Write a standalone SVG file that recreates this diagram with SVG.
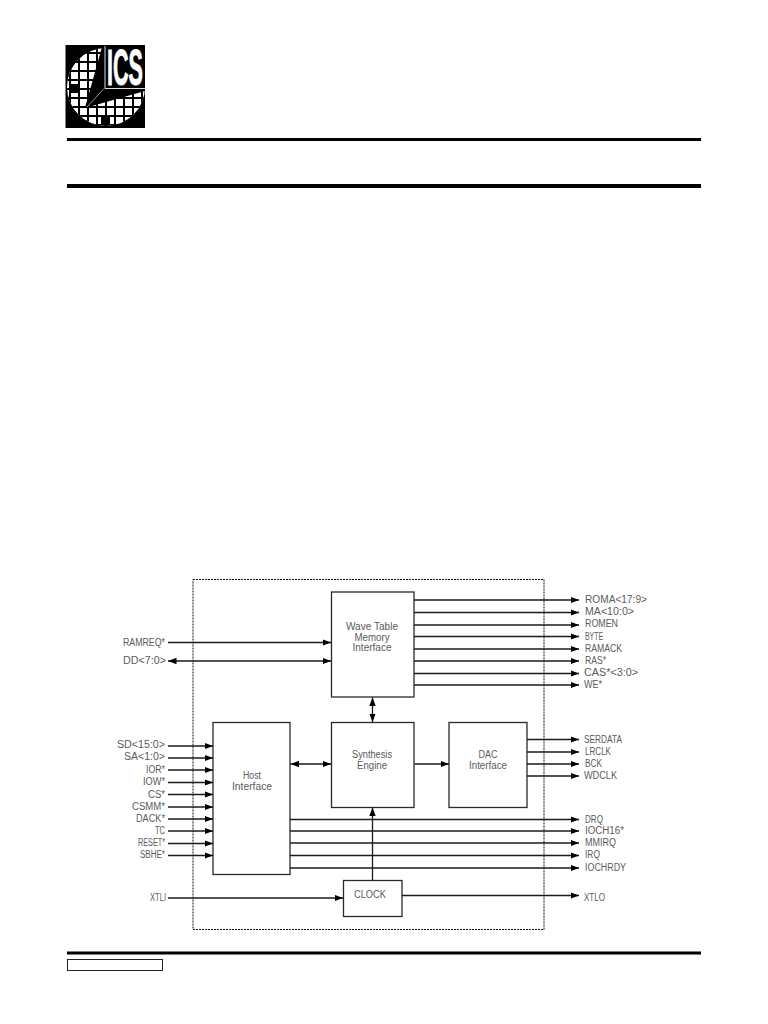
<svg xmlns="http://www.w3.org/2000/svg" width="768" height="1024" viewBox="0 0 768 1024">
<style>
text{font-family:"Liberation Sans",Arial,sans-serif;font-size:10px;fill:#5a5a5a}
.box{fill:#fff;stroke:#2a2a2a;stroke-width:1.3}
.c{fill:none;stroke:#1a1a1a;stroke-width:1.3}
.a{marker-end:url(#ah)}
.b{marker-end:url(#ah);marker-start:url(#ah)}
.e{text-anchor:end}
.m{text-anchor:middle}
.rule{fill:#000}
</style>
<defs>
<marker id="ah" markerUnits="userSpaceOnUse" markerWidth="10" markerHeight="8" refX="8.500" refY="4" orient="auto-start-reverse"><path d="M0 0.800L8.500 4L0 7.200Z" fill="#000"/></marker>
<clipPath id="disc"><circle cx="106" cy="87" r="39"/></clipPath>
</defs>
<g id="logo">
<rect x="65.500" y="45" width="79.500" height="83" fill="#000"/>
<circle cx="106" cy="87" r="39" fill="#fff"/>
<g clip-path="url(#disc)" stroke="#000" stroke-width="2">
<path d="M70 40V130M79 40V130M88 40V130M97 40V130M106 40V130M115 40V130M124 40V130M133 40V130M142 40V130"/>
<path d="M60 53H150M60 62H150M60 71H150M60 80H150M60 89H150M60 98H150M60 107H150M60 116H150M60 125H150"/>
</g>
<rect x="71" y="84" width="8" height="9" fill="#000"/>
<rect x="101" y="115" width="9" height="9" fill="#000"/>
<path d="M85 108L102 47H145V91Z" fill="#000"/>
<path d="M87 107L104 88.500" stroke="#999" stroke-width="1" fill="none"/>
<path d="M105 46V88.500H145" stroke="#ddd" stroke-width="1" fill="none"/>
<text transform="translate(107 85) scale(0.62 1)" style="font-size:50px;font-weight:bold;fill:#fff;stroke:#fff;stroke-width:1" textLength="58" lengthAdjust="spacingAndGlyphs">ICS</text>
</g>
<g id="rules">
<rect class="rule" x="67" y="138" width="634" height="3"/>
<rect class="rule" x="67" y="184" width="634" height="4"/>
<rect class="rule" x="67" y="951.500" width="634" height="3"/>
<rect x="67.500" y="959.500" width="95" height="11" fill="#fff" stroke="#222" stroke-width="1"/>
</g>
<g id="boundary"><rect x="193" y="579.500" width="351" height="350" fill="none" stroke="#111" stroke-width="1" stroke-dasharray="2 1"/></g>
<g id="wave-table"><rect class="box" x="331.500" y="592" width="82.500" height="105"/>
<text class="m" x="372" y="630" textLength="52" lengthAdjust="spacingAndGlyphs">Wave Table</text>
<text class="m" x="372" y="640.500" textLength="35" lengthAdjust="spacingAndGlyphs">Memory</text>
<text class="m" x="372" y="650.500" textLength="39" lengthAdjust="spacingAndGlyphs">Interface</text></g>
<g id="host"><rect class="box" x="213" y="722.500" width="77" height="152"/>
<text class="m" x="252" y="779" textLength="18" lengthAdjust="spacingAndGlyphs">Host</text>
<text class="m" x="252" y="789.500" textLength="40" lengthAdjust="spacingAndGlyphs">Interface</text></g>
<g id="synthesis"><rect class="box" x="331.500" y="722.500" width="82.500" height="85"/>
<text class="m" x="372" y="758" textLength="40" lengthAdjust="spacingAndGlyphs">Synthesis</text>
<text class="m" x="372" y="768.500" textLength="30" lengthAdjust="spacingAndGlyphs">Engine</text></g>
<g id="dac"><rect class="box" x="449" y="722.500" width="78" height="85"/>
<text class="m" x="488" y="758" textLength="19" lengthAdjust="spacingAndGlyphs">DAC</text>
<text class="m" x="488" y="768.500" textLength="38" lengthAdjust="spacingAndGlyphs">Interface</text></g>
<g id="clock"><rect class="box" x="343.500" y="880.500" width="58.500" height="36"/>
<text class="m" x="370" y="898" textLength="32" lengthAdjust="spacingAndGlyphs">CLOCK</text></g>
<g id="connectors">
<path class="c a" d="M168 642.500H331"/>
<path class="c b" d="M168 661H331"/>
<path class="c b" d="M372.500 697.500V722"/>
<path class="c b" d="M290.500 764H331"/>
<path class="c a" d="M414.500 764H449"/>
<path class="c a" d="M372.500 880V807.500"/>
<path class="c a" d="M168 898H343"/>
<path class="c a" d="M402 895.500H579"/>
<path class="c a" d="M168 746H213"/><path class="c a" d="M168 758H213"/><path class="c a" d="M168 770H213"/><path class="c a" d="M168 782.500H213"/><path class="c a" d="M168 794.500H213"/><path class="c a" d="M168 807H213"/><path class="c a" d="M168 819H213"/><path class="c a" d="M168 831H213"/><path class="c a" d="M168 843.500H213"/><path class="c a" d="M168 855.500H213"/>
<path class="c a" d="M414 600H579"/><path class="c a" d="M414 612.500H579"/><path class="c a" d="M414 625H579"/><path class="c a" d="M414 636.500H579"/><path class="c a" d="M414 649H579"/><path class="c a" d="M414 661H579"/><path class="c a" d="M414 673.500H579"/><path class="c a" d="M414 685H579"/>
<path class="c a" d="M527 739.500H579"/><path class="c a" d="M527 752H579"/><path class="c a" d="M527 764H579"/><path class="c a" d="M527 776H579"/>
<path class="c a" d="M290 819.500H579"/><path class="c a" d="M290 831H579"/><path class="c a" d="M290 843H579"/><path class="c a" d="M290 855.500H579"/><path class="c a" d="M290 868H579"/>
</g>
<g id="signal-labels">
<text class="e" x="165" y="646" textLength="42" lengthAdjust="spacingAndGlyphs">RAMREQ*</text>
<text class="e" x="166" y="664" textLength="43" lengthAdjust="spacingAndGlyphs">DD&lt;7:0&gt;</text>
<text class="e" x="165" y="748" textLength="48" lengthAdjust="spacingAndGlyphs">SD&lt;15:0&gt;</text>
<text class="e" x="165" y="760" textLength="41" lengthAdjust="spacingAndGlyphs">SA&lt;1:0&gt;</text>
<text class="e" x="165" y="772.500" textLength="19" lengthAdjust="spacingAndGlyphs">IOR*</text>
<text class="e" x="165" y="785" textLength="22" lengthAdjust="spacingAndGlyphs">IOW*</text>
<text class="e" x="165" y="797.500" textLength="17" lengthAdjust="spacingAndGlyphs">CS*</text>
<text class="e" x="165" y="810" textLength="33" lengthAdjust="spacingAndGlyphs">CSMM*</text>
<text class="e" x="165" y="822" textLength="29" lengthAdjust="spacingAndGlyphs">DACK*</text>
<text class="e" x="165" y="834" textLength="10" lengthAdjust="spacingAndGlyphs">TC</text>
<text class="e" x="165" y="846" textLength="27" lengthAdjust="spacingAndGlyphs">RESET*</text>
<text class="e" x="165" y="858" textLength="25" lengthAdjust="spacingAndGlyphs">SBHE*</text>
<text class="e" x="166" y="901" textLength="16" lengthAdjust="spacingAndGlyphs">XTLI</text>
<text x="585" y="603" textLength="62" lengthAdjust="spacingAndGlyphs">ROMA&lt;17:9&gt;</text>
<text x="585" y="615" textLength="49" lengthAdjust="spacingAndGlyphs">MA&lt;10:0&gt;</text>
<text x="585" y="627" textLength="33" lengthAdjust="spacingAndGlyphs">ROMEN</text>
<text x="585" y="639.500" textLength="18" lengthAdjust="spacingAndGlyphs">BYTE</text>
<text x="585" y="652" textLength="37" lengthAdjust="spacingAndGlyphs">RAMACK</text>
<text x="585" y="664" textLength="21" lengthAdjust="spacingAndGlyphs">RAS*</text>
<text x="584" y="676" textLength="54" lengthAdjust="spacingAndGlyphs">CAS*&lt;3:0&gt;</text>
<text x="584" y="688" textLength="18" lengthAdjust="spacingAndGlyphs">WE*</text>
<text x="584" y="743" textLength="38" lengthAdjust="spacingAndGlyphs">SERDATA</text>
<text x="585" y="755" textLength="26" lengthAdjust="spacingAndGlyphs">LRCLK</text>
<text x="585" y="767" textLength="17" lengthAdjust="spacingAndGlyphs">BCK</text>
<text x="584" y="779" textLength="33" lengthAdjust="spacingAndGlyphs">WDCLK</text>
<text x="585" y="822.500" textLength="18" lengthAdjust="spacingAndGlyphs">DRQ</text>
<text x="585" y="834" textLength="39" lengthAdjust="spacingAndGlyphs">IOCH16*</text>
<text x="585" y="846" textLength="31" lengthAdjust="spacingAndGlyphs">MMIRQ</text>
<text x="585" y="858" textLength="15" lengthAdjust="spacingAndGlyphs">IRQ</text>
<text x="585" y="871" textLength="41" lengthAdjust="spacingAndGlyphs">IOCHRDY</text>
<text x="584" y="901" textLength="21" lengthAdjust="spacingAndGlyphs">XTLO</text>
</g>
</svg>
